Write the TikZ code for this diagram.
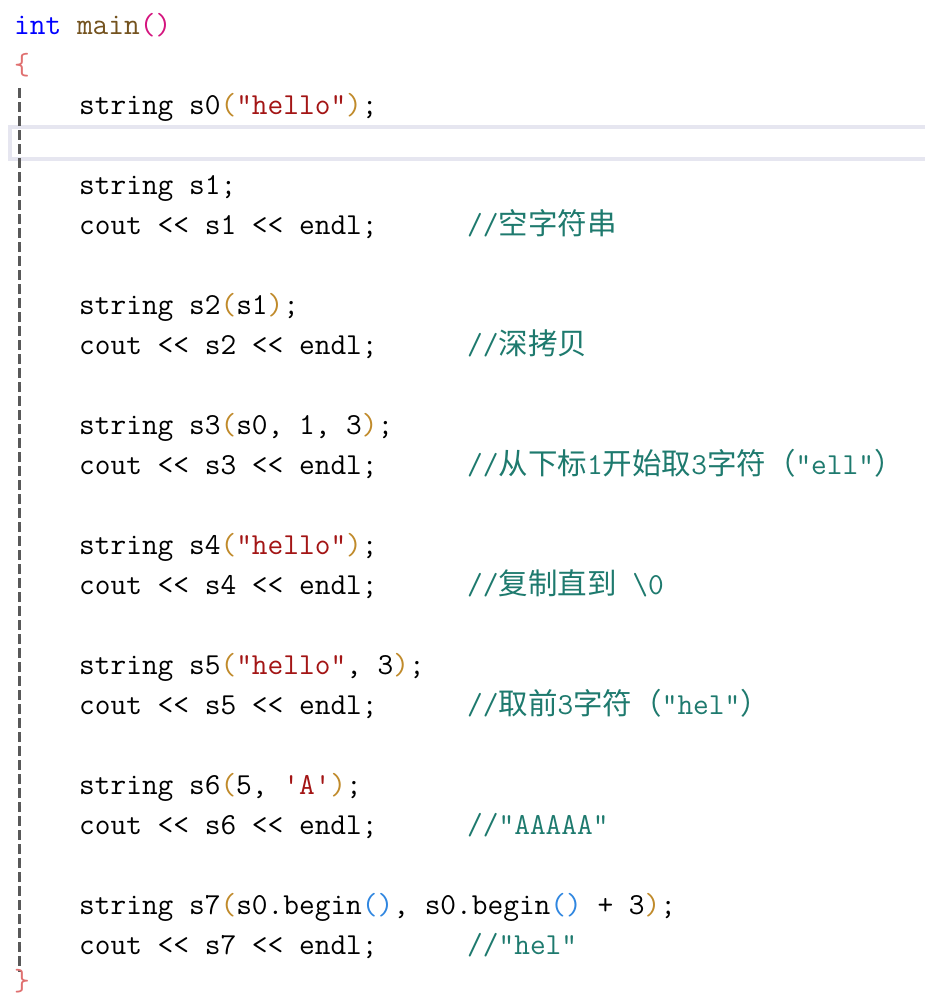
\documentclass[tikz,border=0pt]{standalone}
\usepackage{fontspec}
\setmonofont{Latin Modern Mono}
\newfontfamily\cjk{Noto Sans CJK SC}
\definecolor{kwc}{HTML}{0000FF}
\definecolor{fnc}{HTML}{74531F}
\definecolor{mpc}{HTML}{D4147E}
\definecolor{brc}{HTML}{E07070}
\definecolor{pc}{HTML}{C08A2A}
\definecolor{strc}{HTML}{A31515}
\definecolor{bpc}{HTML}{2F86E0}
\definecolor{cmc}{HTML}{1E7A6E}
\definecolor{hlc}{HTML}{E6E6F0}
\newcommand\cK[1]{\textcolor{kwc}{#1}}
\newcommand\cF[1]{\textcolor{fnc}{#1}}
\newcommand\cS[1]{\textcolor{strc}{#1}}
\newcommand\cP[1]{\textcolor{pc}{#1}}
\newcommand\cB[1]{\textcolor{bpc}{#1}}
\newcommand\zh[1]{{\cjk\fontsize{29.5}{29.5}\selectfont #1}}
\begin{document}
\begin{tikzpicture}[x=1pt,y=-1pt,
  code/.style={anchor=base west,inner sep=0pt,font=\ttfamily\fontsize{30.5}{30}\selectfont},
  cmt/.style={code,text=cmc}]
\useasboundingbox[fill=white] (0,0) rectangle (924,1001);
\draw[draw=hlc,line width=3.5pt] (10,127) rectangle (930,159);
\draw[black!65,line width=3pt,dash pattern=on 10pt off 4pt] (19,88) -- (19,972);
\node[code] (l0) at (14,34) {\cK{int} \cF{main}\textcolor{mpc}{()}};
\node[code,text=brc] (lb) at (14,74) {\{};
\node[code] (l1) at (79,114) {string s0\cP{(}\cS{"hello"}\cP{)};};
\node[code] (l2) at (79,194) {string s1;};
\node[code] (l3) at (79,234) {cout << s1 << endl;};
\node[cmt] (c3) at (467,234) {//\zh{空字符串}};
\node[code] (l4) at (79,314) {string s2\cP{(}s1\cP{)};};
\node[code] (l5) at (79,354) {cout << s2 << endl;};
\node[cmt] (c5) at (467,354) {//\zh{深拷贝}};
\node[code] (l6) at (79,434) {string s3\cP{(}s0, 1, 3\cP{)};};
\node[code] (l7) at (79,474) {cout << s3 << endl;};
\node[cmt] (c7) at (467,474) {//\zh{从下标}1\zh{开始取}3\zh{字符（}"ell"\zh{）}};
\node[code] (l8) at (79,554) {string s4\cP{(}\cS{"hello"}\cP{)};};
\node[code] (l9) at (79,594) {cout << s4 << endl;};
\node[cmt] (c9) at (467,594) {//\zh{复制直到} \textbackslash 0};
\node[code] (l10) at (79,674) {string s5\cP{(}\cS{"hello"}, 3\cP{)};};
\node[code] (l11) at (79,714) {cout << s5 << endl;};
\node[cmt] (c11) at (467,714) {//\zh{取前}3\zh{字符（}"hel"\zh{）}};
\node[code] (l12) at (79,794) {string s6\cP{(}5, \cS{'A'}\cP{)};};
\node[code] (l13) at (79,834) {cout << s6 << endl;};
\node[cmt] (c13) at (467,834) {//"AAAAA"};
\node[code] (l14) at (79,914) {string s7\cP{(}s0.begin\cB{()}, s0.begin\cB{()} + 3\cP{)};};
\node[code] (l15) at (79,954) {cout << s7 << endl;};
\node[cmt] (c15) at (467,954) {//"hel"};
\node[code,text=brc] (le) at (14,990) {\}};
\end{tikzpicture}
\end{document}
